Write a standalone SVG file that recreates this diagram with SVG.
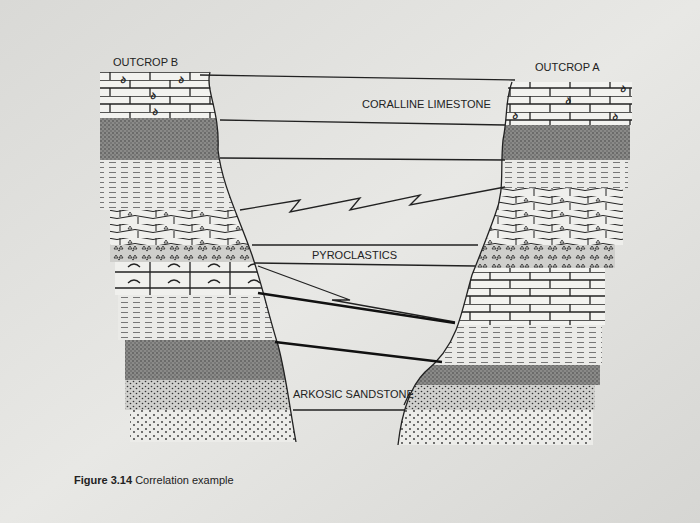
<svg xmlns="http://www.w3.org/2000/svg" width="700" height="523" viewBox="0 0 700 523">
<defs>
<linearGradient id="bg" x1="0" y1="0" x2="1" y2="1"><stop offset="0" stop-color="#d9d9d6"/><stop offset="0.5" stop-color="#e8e8e5"/><stop offset="1" stop-color="#d6d6d3"/></linearGradient>
<clipPath id="cb"><path d="M90 60H210C205 90 220 110 218 150C222 185 238 215 252 255C262 285 270 320 278 345C286 375 290 410 296 442V460H90Z"/></clipPath>
<clipPath id="ca"><path d="M640 60H512C505 100 508 115 503 140C500 170 505 190 495 215C488 235 482 250 472 275C465 300 462 315 456 330C450 345 440 360 425 372C412 385 402 410 398 445V460H640Z"/></clipPath>
<pattern id="lime" width="40" height="16" patternUnits="userSpaceOnUse"><rect width="40" height="16" fill="#f2f2ef"/><path d="M0 0H40M0 8H40M10 0V8M30 8V16" stroke="#222" stroke-width="1.3" fill="none"/></pattern>
<pattern id="dark" width="4" height="4" patternUnits="userSpaceOnUse"><rect width="4" height="4" fill="#8a8a88"/><circle cx="1" cy="1" r="0.8" fill="#444"/><circle cx="3" cy="3" r="0.7" fill="#555"/></pattern>
<pattern id="shale" width="12" height="5" patternUnits="userSpaceOnUse"><rect width="12" height="5" fill="#eaeae7"/><path d="M1 2.5H8" stroke="#777" stroke-width="1"/></pattern>
<pattern id="dots" width="8" height="7" patternUnits="userSpaceOnUse"><rect width="8" height="7" fill="#ececE9"/><circle cx="2" cy="2" r="0.9" fill="#333"/><circle cx="6" cy="5" r="0.9" fill="#333"/></pattern>
<pattern id="sdots" width="6" height="5" patternUnits="userSpaceOnUse"><rect width="6" height="5" fill="#d0d0cd"/><circle cx="1.5" cy="1.5" r="0.8" fill="#333"/><circle cx="4.5" cy="3.5" r="0.8" fill="#333"/></pattern>
<pattern id="brec" width="36" height="14" patternUnits="userSpaceOnUse"><rect width="36" height="14" fill="#efefec"/><path d="M0 0Q9 3 18 0T36 0M12 0V7M30 7V14M0 7Q9 10 18 7T36 7" stroke="#222" fill="none"/><path d="M22 2l2 3h-4z" stroke="#222" fill="none" stroke-width="0.8"/></pattern>
<pattern id="pyro" width="14" height="9" patternUnits="userSpaceOnUse"><rect width="14" height="9" fill="#cfcfcc"/><path d="M2 6l2-3 2 3z M9 3l2 3h-4z" stroke="#222" fill="none" stroke-width="0.8"/><circle cx="7" cy="7.5" r="0.8" fill="#222"/></pattern>
<pattern id="curl" width="40" height="16" patternUnits="userSpaceOnUse"><rect width="40" height="16" fill="#f0f0ed"/><path d="M0 0H40M0 16H40M30 0V16M8 11Q14 5 20 11" stroke="#222" stroke-width="1.3" fill="none"/></pattern>
<style>.t{font-family:"Liberation Sans",Arial,sans-serif;font-size:11px;fill:#222}.c{stroke:#222;stroke-width:1.3;fill:none}.k{stroke:#111;stroke-width:2.4;fill:none}.f{font-family:"Liberation Serif",serif;font-size:9px;font-style:italic;font-weight:bold;fill:#222}</style>
</defs>
<rect width="700" height="523" fill="url(#bg)"/>
<g id="outcropB">
<g clip-path="url(#cb)">
<rect x="100" y="72" width="120" height="46" fill="url(#lime)"/>
<rect x="100" y="118" width="130" height="42" fill="url(#dark)"/>
<rect x="100" y="160" width="140" height="50" fill="url(#shale)"/>
<rect x="110" y="210" width="145" height="35" fill="url(#brec)"/>
<rect x="110" y="245" width="150" height="17" fill="url(#pyro)"/>
<rect x="115" y="262" width="155" height="33" fill="url(#curl)"/>
<rect x="118" y="295" width="165" height="45" fill="url(#shale)"/>
<rect x="125" y="340" width="170" height="40" fill="url(#dark)"/>
<rect x="125" y="380" width="175" height="30" fill="url(#sdots)"/>
<rect x="130" y="410" width="175" height="32" fill="url(#dots)"/>
</g>
<path d="M210 72C205 90 220 110 218 150C222 185 238 215 252 255C262 285 270 320 278 345C286 375 290 410 296 442" class="c"/>
<text class="f" x="120" y="83">ꝺ</text><text class="f" x="178" y="83">ꝺ</text><text class="f" x="150" y="99">ꝺ</text><text class="f" x="152" y="115">ꝺ</text>
<text class="t" x="113" y="66">OUTCROP B</text>
</g>
<g id="outcropA">
<g clip-path="url(#ca)">
<rect x="500" y="82" width="132" height="43" fill="url(#lime)"/>
<rect x="495" y="125" width="135" height="35" fill="url(#dark)"/>
<rect x="490" y="160" width="138" height="28" fill="url(#shale)"/>
<rect x="480" y="188" width="143" height="57" fill="url(#brec)"/>
<rect x="465" y="245" width="150" height="23" fill="url(#pyro)"/>
<rect x="455" y="268" width="150" height="57" fill="url(#lime)"/>
<rect x="440" y="325" width="162" height="40" fill="url(#shale)"/>
<rect x="415" y="365" width="185" height="20" fill="url(#dark)"/>
<rect x="400" y="385" width="195" height="25" fill="url(#sdots)"/>
<rect x="390" y="410" width="203" height="35" fill="url(#dots)"/>
</g>
<path d="M512 82C505 100 508 115 503 140C500 170 505 190 495 215C488 235 482 250 472 275C465 300 462 315 456 330C450 345 440 360 425 372C412 385 402 410 398 445" class="c"/>
<text class="f" x="620" y="92">ꝺ</text><text class="f" x="565" y="104">ꝺ</text><text class="f" x="512" y="119">ꝺ</text><text class="f" x="612" y="120">ꝺ</text>
<text class="t" x="535" y="71">OUTCROP A</text>
</g>
<g id="connectors">
<path d="M200 75L515 80M220 120L505 125M220 158L505 160M252 245L478 245M255 263L475 266M293 410L405 410M410 392L404 405" class="c"/>
<path d="M240 210L300 200L290 212L360 198L350 210L420 195L410 205L505 187" class="c"/>
<path d="M258 266L350 300L332 300L455 322" class="c"/>
<path d="M258 293L455 323M275 342L442 362" class="k"/>
</g>
<text class="t" x="362" y="108">CORALLINE LIMESTONE</text>
<text class="t" x="312" y="259">PYROCLASTICS</text>
<text class="t" x="293" y="398">ARKOSIC SANDSTONE</text>
<text x="74" y="484" style="font-family:'Liberation Sans',Arial,sans-serif;font-size:11px;fill:#222"><tspan font-weight="bold">Figure 3.14</tspan>   Correlation example</text>
</svg>
